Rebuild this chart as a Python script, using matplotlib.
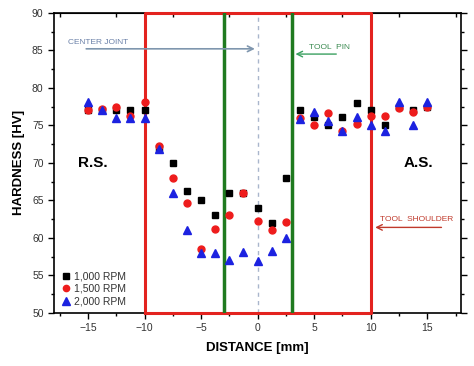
import matplotlib
matplotlib.use('Agg')
import matplotlib.pyplot as plt
import numpy as np

plt.rcParams['font.family'] = ['Liberation Sans', 'DejaVu Sans']

# distance from weld centre [mm]
distance = [-15, -13.75, -12.5, -11.25, -10, -8.75, -7.5, -6.25, -5, -3.75, -2.5, -1.25,
            0, 1.25, 2.5, 3.75, 5, 6.25, 7.5, 8.75, 10, 11.25, 12.5, 13.75, 15]
hv_1000 = [77, 77, 77, 77, 77, 72, 70, 66.3, 65, 63, 66, 66,
           64, 62, 68, 77, 76.1, 75, 76.1, 78, 77, 75, 77.5, 77.1, 77.5]
hv_1500 = [77, 77.2, 77.4, 76.3, 78.1, 72.3, 68, 64.7, 58.5, 61.2, 63.1, 66,
           62.2, 61, 62.1, 76, 75, 76.7, 74.2, 75.2, 76.3, 76.2, 77.3, 76.8, 77.4]
hv_2000 = [78.1, 77, 76, 76, 76, 71.8, 66, 61, 58, 58, 57, 58.1,
           56.9, 58.3, 60, 75.8, 76.8, 75.6, 74.2, 76.1, 75, 74.2, 78.1, 75, 78.1]
labels = ['1,000 RPM', '1,500 RPM', '2,000 RPM']

fig = plt.figure(figsize=(4.74, 3.66), dpi=100)
ax = fig.add_axes([0.114, 0.145, 0.859, 0.82])

# tool shoulder box, tool pin, centre line
ax.plot([-10, -10, 10, 10, -10], [50, 90, 90, 50, 50], color='#e3231f', lw=2.2,
        clip_on=False, zorder=3)
ax.axvline(-3, color='#1f7a1f', lw=2.5, zorder=3)
ax.axvline(3, color='#1f7a1f', lw=2.5, zorder=3)
ax.axvline(0, color='#a9b6cc', lw=1, ls=(0, (3, 3)), zorder=2)

ax.plot(distance, hv_1000, 's', color='black', ms=4.5, label=labels[0], zorder=4)
ax.plot(distance, hv_1500, 'o', color='#ee1c1c', ms=5, label=labels[1], zorder=5)
ax.plot(distance, hv_2000, '^', color='#1c22e0', ms=6, label=labels[2], zorder=6)

ax.annotate('', xy=(0, 85.2), xytext=(-15.4, 85.2),
            arrowprops=dict(arrowstyle='->', color='#7f96ae', lw=1.2))
ax.text(-16.8, 86.1, 'CENTER JOINT', color='#6a80a8', fontsize=6, va='center')
ax.annotate('', xy=(3.1, 84.5), xytext=(7.2, 84.5),
            arrowprops=dict(arrowstyle='->', color='#3aa060', lw=1))
ax.text(4.5, 85.4, 'TOOL  PIN', color='#3a8a50', fontsize=6, va='center')
ax.annotate('', xy=(10.15, 61.4), xytext=(16.5, 61.4),
            arrowprops=dict(arrowstyle='->', color='#c0392b', lw=1))
ax.text(10.8, 62.5, 'TOOL  SHOULDER', color='#c0392b', fontsize=6, va='center')

ax.text(-14.6, 70, 'R.S.', fontsize=11, fontweight='bold', ha='center', va='center')
ax.text(14.2, 70, 'A.S.', fontsize=11, fontweight='bold', ha='center', va='center')

ax.set_xlim(-18, 18)
ax.set_ylim(50, 90)
ax.set_xticks([-15, -10, -5, 0, 5, 10, 15])
ax.set_xticks(np.arange(-17.5, 18, 5), minor=True)
ax.set_yticks(np.arange(50, 91, 5))
ax.set_yticks(np.arange(52.5, 90, 5), minor=True)
ax.tick_params(axis='both', which='major', direction='out', length=4, width=1,
               labelsize=7.5, labelcolor='#333333', right=True)
ax.tick_params(axis='both', which='minor', direction='out', length=2.5, width=1, right=True)
ax.tick_params(axis='x', which='both', top=False)
top = ax.secondary_xaxis('top')
top.set_xticks(np.arange(-17.5, 18, 5))
top.tick_params(direction='in', length=3, width=1, labeltop=False)
for s in ax.spines.values():
    s.set_linewidth(1.2)

ax.set_xlabel('DISTANCE [mm]', fontsize=9.5, fontweight='bold', labelpad=6)
ax.set_ylabel('HARDNESS [HV]', fontsize=9.5, fontweight='bold', labelpad=5)

ax.legend(loc='lower left', bbox_to_anchor=(-0.01, -0.01), frameon=False, fontsize=7.5,
          handletextpad=0.2, labelspacing=0.25, markerscale=0.9, handlelength=1.2,
          labelcolor='#333333')

fig.savefig('out.png', dpi=100)
